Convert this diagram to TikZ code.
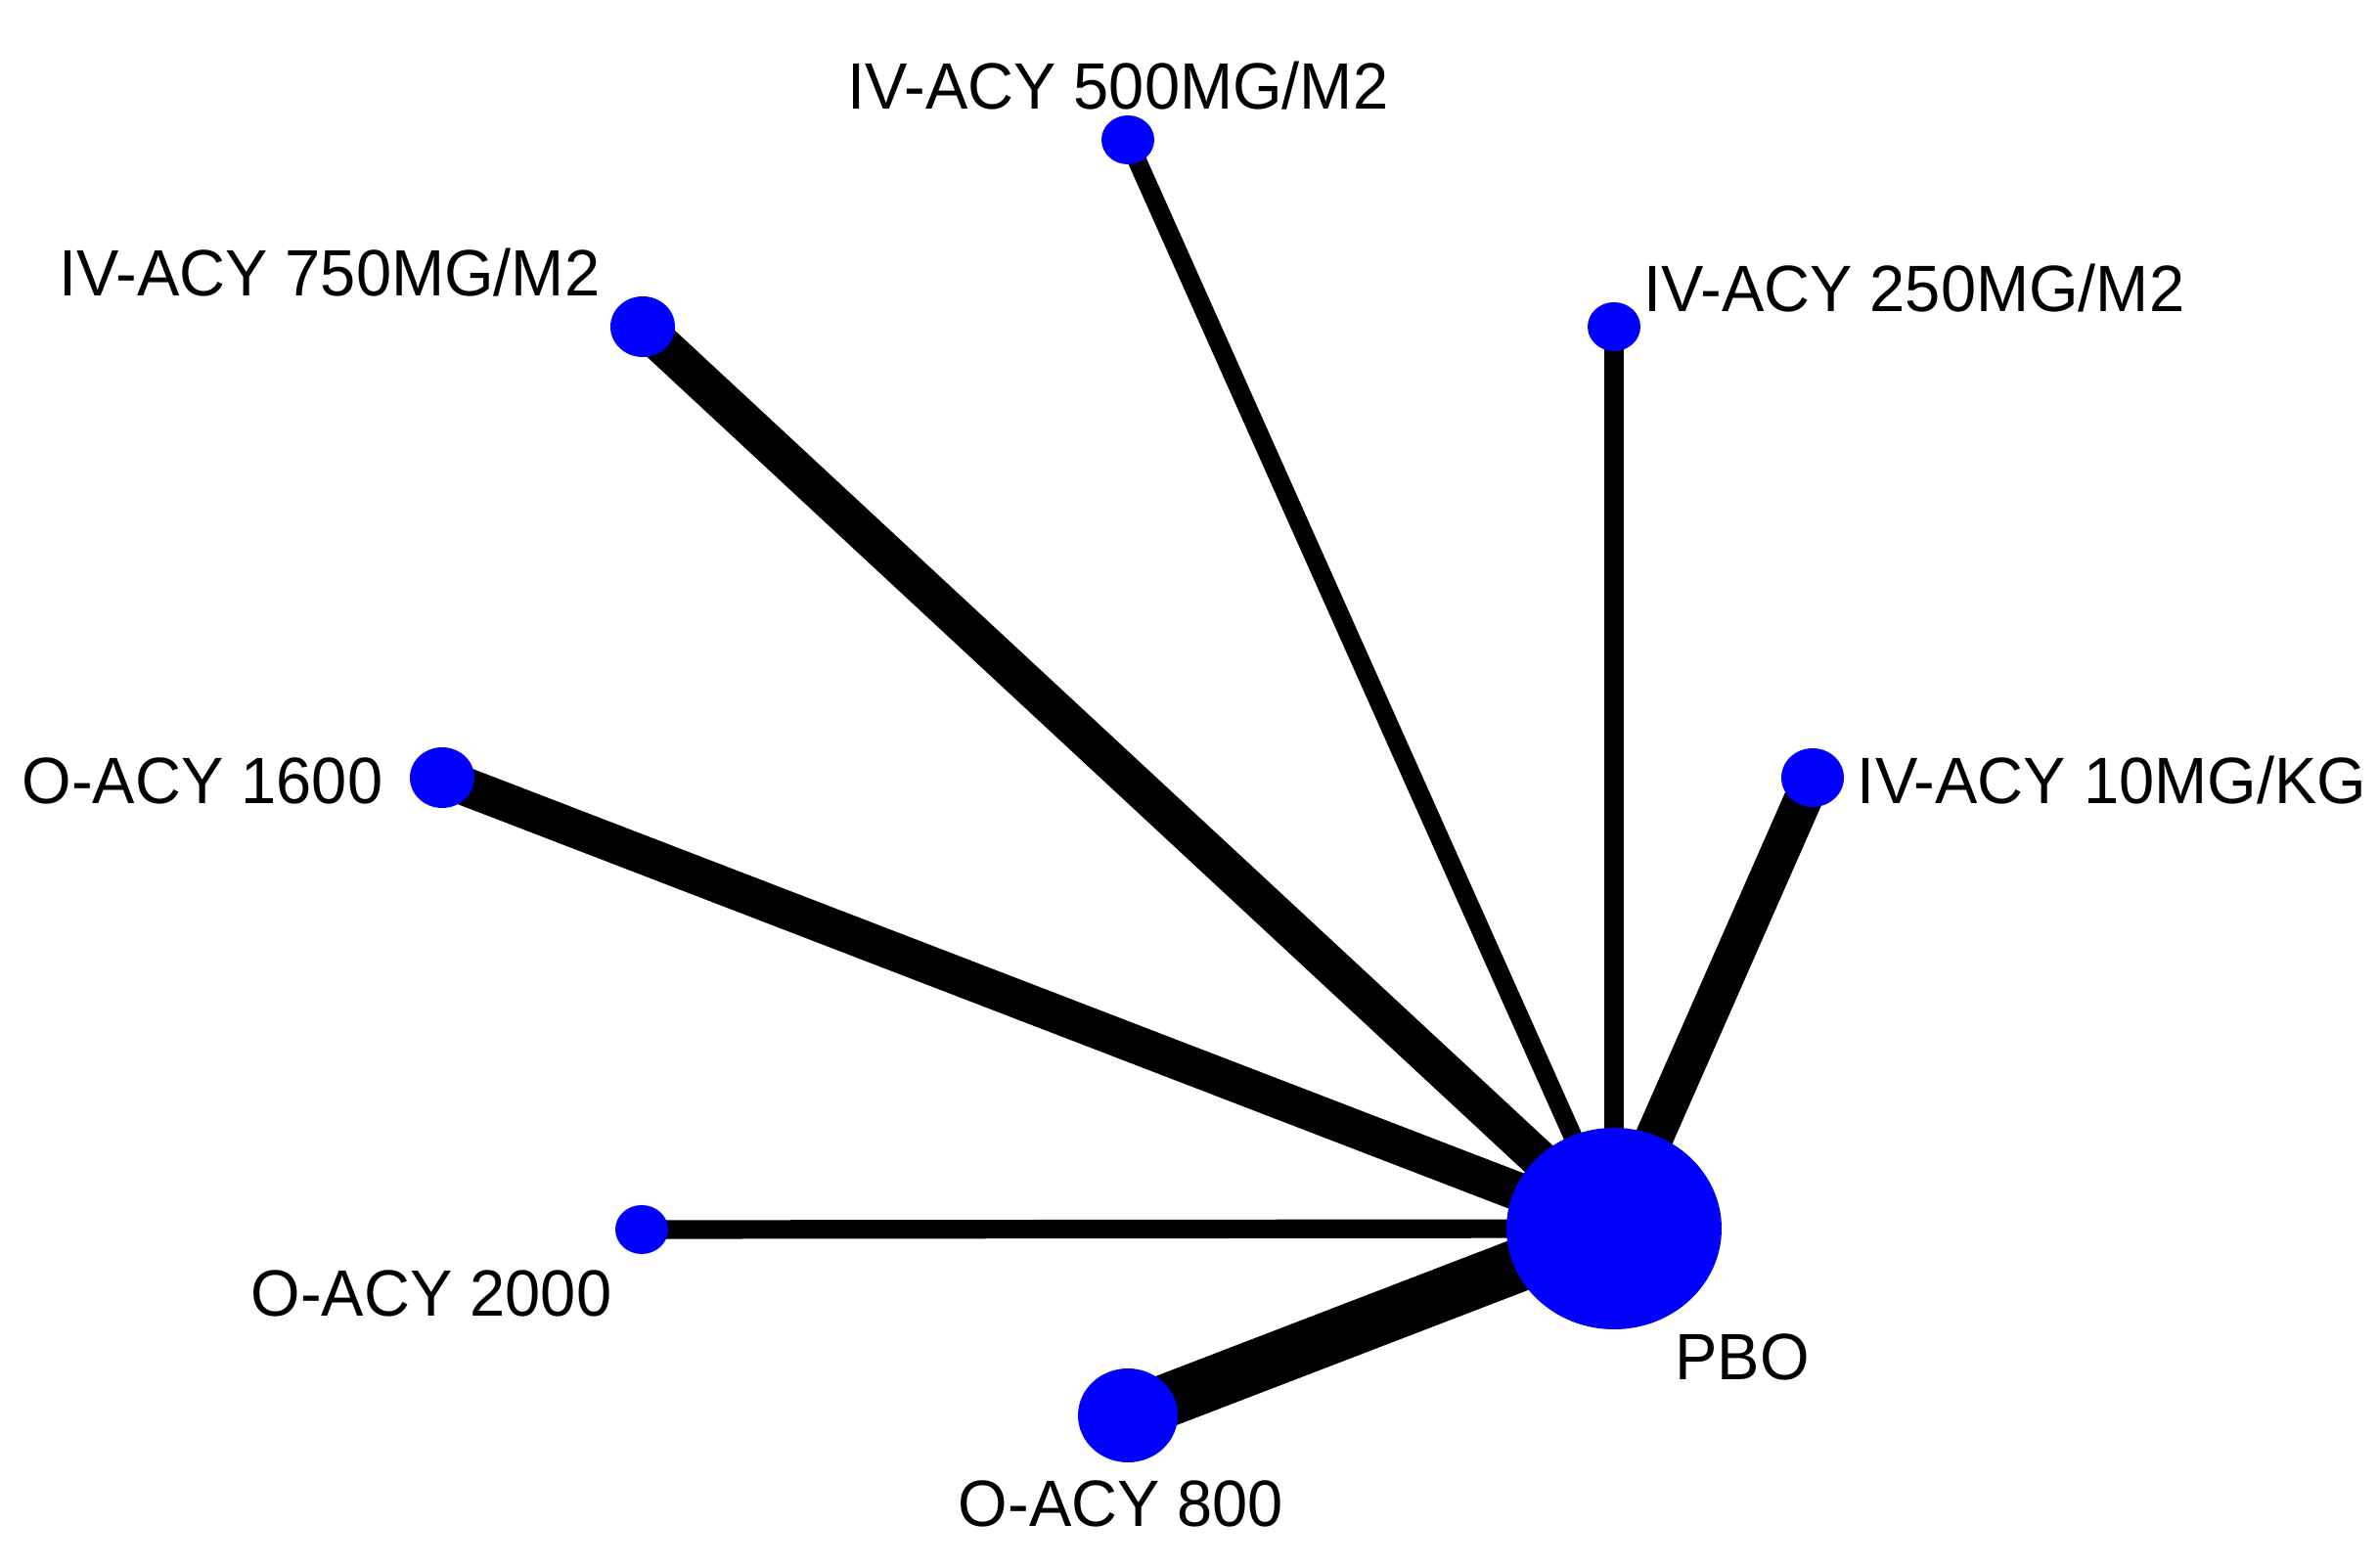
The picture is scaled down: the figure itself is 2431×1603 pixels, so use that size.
\documentclass[tikz,border=0pt]{standalone}
\usepackage{fontspec}
\newfontfamily\lblfont[FakeStretch=0.97]{Liberation Sans}
\usetikzlibrary{shapes.geometric,backgrounds}
\definecolor{nodeblue}{RGB}{0,0,255}
\tikzset{
  trt/.style={ellipse, fill=nodeblue, draw=none, inner sep=0pt},
  lbl/.style={font=\lblfont\fontsize{16.75pt}{18pt}\selectfont, text=black, anchor=base, inner sep=0pt},
  thin edge/.style={line width=4.8pt, black},
  mid edge/.style={line width=9.8pt, black},
  thick edge/.style={line width=13.6pt, black}
}
\begin{document}
\begin{tikzpicture}[x=0.25pt, y=-0.25pt]
\useasboundingbox (0,0) rectangle (2431,1603);
% treatment nodes
\node[trt, minimum width=55pt, minimum height=51.5pt] (pbo) at (1650,1256) {};
\node[trt, minimum width=25.5pt, minimum height=24pt] (o800) at (1153,1447) {};
\node[trt, minimum width=16.5pt, minimum height=15.5pt] (iv750) at (657,334) {};
\node[trt, minimum width=16.5pt, minimum height=15.5pt] (o1600) at (452,795) {};
\node[trt, minimum width=16pt, minimum height=15pt] (iv10) at (1853,795) {};
\node[trt, minimum width=13.5pt, minimum height=12.5pt] (iv500) at (1153,143) {};
\node[trt, minimum width=13.5pt, minimum height=12.5pt] (iv250) at (1650,334) {};
\node[trt, minimum width=13.5pt, minimum height=12.5pt] (o2000) at (656,1257) {};
% labels
\node[lbl] (l500) at (1143,112) {IV-ACY 500MG/M2};
\node[lbl] (l750) at (337,303) {IV-ACY 750MG/M2};
\node[lbl] (l250) at (1957,319) {IV-ACY 250MG/M2};
\node[lbl] (l1600) at (207,822) {O-ACY 1600};
\node[lbl] (l10) at (2159,822) {IV-ACY 10MG/KG};
\node[lbl] (l2000) at (441,1345) {O-ACY 2000};
\node[lbl] (lpbo) at (1781,1410) {PBO};
\node[lbl] (l800) at (1146,1560) {O-ACY 800};
% connectors
\begin{scope}[on background layer]
\draw[thin edge] (pbo.center) -- (iv500.center);
\draw[thin edge] (pbo.center) -- (iv250.center);
\draw[thin edge] (pbo.center) -- (o2000.center);
\draw[mid edge] (pbo.center) -- (iv750.center);
\draw[mid edge] (pbo.center) -- (o1600.center);
\draw[mid edge] (pbo.center) -- (iv10.center);
\draw[thick edge] (pbo.center) -- (o800.center);
\end{scope}
\end{tikzpicture}
\end{document}
